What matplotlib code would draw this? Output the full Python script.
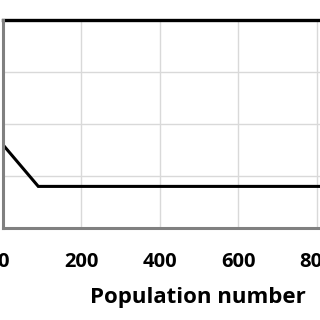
import matplotlib
matplotlib.use("Agg")
import matplotlib.pyplot as plt

# Data
population = [0, 90, 1000]
value = [0.40, 0.20, 0.20]
upper_x = [0, 1000]
upper_y = [1.0, 1.0]
xticks = [0, 200, 400, 600, 800, 1000]
yticks = [0, 0.25, 0.5, 0.75, 1.0]

plt.rcParams['font.family'] = ['Open Sans', 'DejaVu Sans']

fig = plt.figure(figsize=(3.2, 3.2), dpi=100)
ax = fig.add_axes([3 / 320, 92 / 320, 392 / 320, 208 / 320])

ax.plot(population, value, color='black', lw=2.2, solid_joinstyle='miter')
ax.plot(upper_x, upper_y, color='black', lw=2.4, clip_on=False)

ax.set_xlim(0, 1000)
ax.set_ylim(0, 1.0)
ax.set_xticks(xticks)
ax.set_yticks(yticks)
ax.set_yticklabels([])
ax.tick_params(axis='both', length=0)
ax.tick_params(axis='x', pad=17, labelsize=14.5)
for lbl in ax.get_xticklabels():
    lbl.set_fontweight('bold')

ax.grid(True, color='#d9d9d9', lw=1)
ax.set_axisbelow(True)

for side in ['left', 'bottom']:
    ax.spines[side].set_color('#808080')
    ax.spines[side].set_linewidth(2.2)
ax.spines['top'].set_visible(False)
ax.spines['right'].set_visible(False)

fig.text(198 / 320, 1 - 303 / 320, 'Population number', ha='center', va='baseline',
         fontsize=16, fontweight='bold')

fig.savefig('out.png', dpi=100)
